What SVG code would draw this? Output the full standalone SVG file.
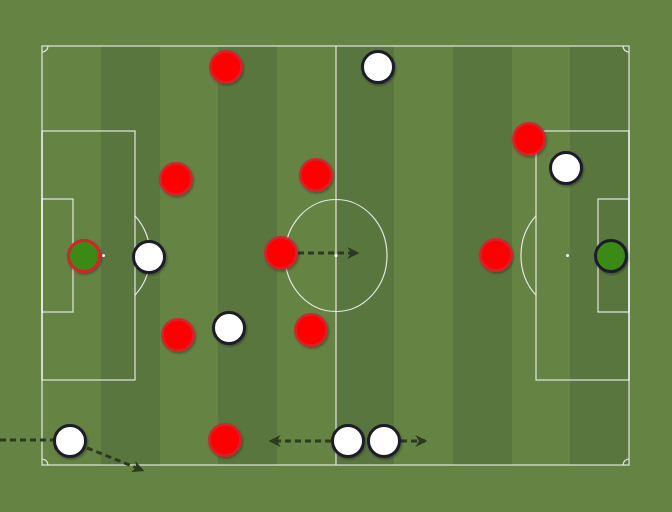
<svg xmlns="http://www.w3.org/2000/svg" width="672" height="512" viewBox="0 0 672 512">
<defs>
<style>
.line{fill:none;stroke:#f2f2f2;stroke-width:1.2;stroke-opacity:0.9}
.dark{fill:#5a763f}
.red{fill:#ff0000;stroke:#d8202c;stroke-width:3;stroke-opacity:0.85;filter:url(#sh)}
.white{fill:#ffffff;stroke:#1c1c2c;stroke-width:3;filter:url(#sh)}
.gkw{fill:#3a8a12;stroke:#1c1c2c;stroke-width:3;filter:url(#sh)}
.gkr{fill:#3a8a12;stroke:#d8202c;stroke-width:3;filter:url(#sh)}
.run{fill:none;stroke:#2b3a20;stroke-width:3;stroke-dasharray:6 4}
</style>
<filter id="sh" x="-30%" y="-30%" width="160%" height="160%">
<feDropShadow dx="1" dy="1.5" stdDeviation="1.2" flood-color="#000" flood-opacity="0.35"/>
</filter>
<marker id="ah" viewBox="0 0 10 10" refX="8" refY="5" markerWidth="4" markerHeight="4" orient="auto" markerUnits="strokeWidth">
<path d="M0,0 L10,5 L0,10 L3,5 Z" fill="#2b3a20"/>
</marker>
</defs>
<rect width="672" height="512" fill="#658343"/>
<g id="pitch">
<rect class="dark" x="101" y="46" width="59" height="419"/>
<rect class="dark" x="218" y="46" width="59" height="419"/>
<rect class="dark" x="336" y="46" width="58" height="419"/>
<rect class="dark" x="453" y="46" width="59" height="419"/>
<rect class="dark" x="570" y="46" width="59" height="419"/>
<rect class="line" x="42" y="46" width="587" height="419"/>
<line class="line" x1="336" y1="46" x2="336" y2="465"/>
<ellipse class="line" cx="336" cy="255.5" rx="51" ry="56"/>
<rect class="line" x="42" y="131" width="93" height="249"/>
<rect class="line" x="42" y="199" width="31" height="113"/>
<rect class="line" x="536" y="131" width="93" height="249"/>
<rect class="line" x="598" y="199" width="31" height="113"/>
<path class="line" d="M135,215.8 A51,56 0 0 1 135,295.2"/>
<path class="line" d="M536,215.8 A51,56 0 0 0 536,295.2"/>
<circle cx="103.5" cy="255.5" r="1.5" fill="#fff"/>
<circle cx="567.5" cy="255.5" r="1.5" fill="#fff"/>
<circle cx="336" cy="255.5" r="1.5" fill="#fff"/>
<path class="line" d="M42,52 A6,6 0 0 0 48,46"/>
<path class="line" d="M623,46 A6,6 0 0 0 629,52"/>
<path class="line" d="M42,459 A6,6 0 0 1 48,465"/>
<path class="line" d="M623,465 A6,6 0 0 1 629,459"/>
</g>
<g id="connectors">
<line class="run" x1="298" y1="253" x2="357" y2="253" marker-end="url(#ah)"/>
<line class="run" x1="0" y1="440" x2="56" y2="440"/>
<line class="run" x1="87" y1="448" x2="142" y2="470" marker-end="url(#ah)"/>
<line class="run" x1="331" y1="441" x2="271" y2="441" marker-end="url(#ah)"/>
<line class="run" x1="401" y1="441" x2="425" y2="441" marker-end="url(#ah)"/>
</g>
<g id="red-1"><circle class="red" cx="226" cy="67" r="15.5"/></g>
<g id="red-2"><circle class="red" cx="176" cy="179" r="15.5"/></g>
<g id="red-3"><circle class="red" cx="316" cy="175" r="15.5"/></g>
<g id="red-4"><circle class="red" cx="281" cy="253" r="15.5"/></g>
<g id="red-5"><circle class="red" cx="178" cy="335" r="15.5"/></g>
<g id="red-6"><circle class="red" cx="311" cy="330" r="15.5"/></g>
<g id="red-7"><circle class="red" cx="225" cy="440" r="15.5"/></g>
<g id="red-8"><circle class="red" cx="529" cy="139" r="15.5"/></g>
<g id="red-9"><circle class="red" cx="496" cy="255" r="15.5"/></g>
<g id="red-gk"><circle class="gkr" cx="84" cy="256" r="15.5"/></g>
<g id="white-1"><circle class="white" cx="378" cy="67" r="15.5"/></g>
<g id="white-2"><circle class="white" cx="566" cy="168" r="15.5"/></g>
<g id="white-3"><circle class="white" cx="149" cy="257" r="15.5"/></g>
<g id="white-4"><circle class="white" cx="229" cy="328" r="15.5"/></g>
<g id="white-5"><circle class="white" cx="70" cy="441" r="15.5"/></g>
<g id="white-6"><circle class="white" cx="348" cy="441" r="15.5"/></g>
<g id="white-7"><circle class="white" cx="384" cy="441" r="15.5"/></g>
<g id="white-gk"><circle class="gkw" cx="611" cy="256" r="15.5"/></g>
</svg>
